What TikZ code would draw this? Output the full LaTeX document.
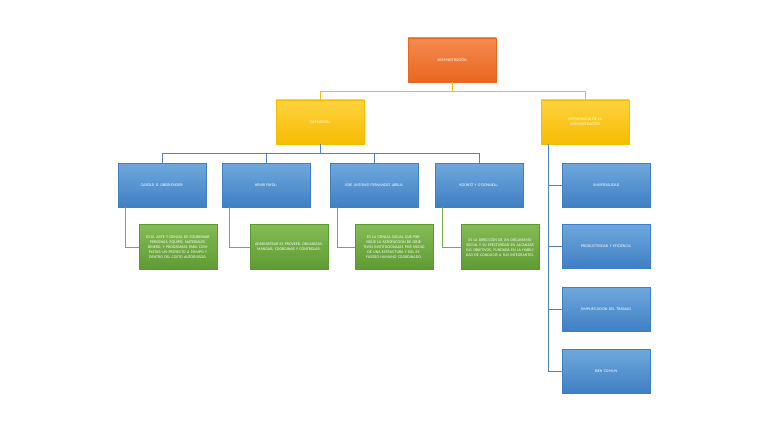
\documentclass[tikz,border=0pt]{standalone}
\usepackage{fontspec}
\setmainfont{Carlito}
\definecolor{orT}{HTML}{F58A4F}\definecolor{orB}{HTML}{E8671F}
\definecolor{yeT}{HTML}{FFD33F}\definecolor{yeB}{HTML}{F5BC00}
\definecolor{blT}{HTML}{6FA8DC}\definecolor{blB}{HTML}{3F7FC4}
\definecolor{grT}{HTML}{84BB55}\definecolor{grB}{HTML}{5E9A32}
\definecolor{lnY}{HTML}{F2C200}\definecolor{lnB}{HTML}{4A84C2}\definecolor{lnG}{HTML}{77AD4A}
\begin{document}
\begin{tikzpicture}[x=1pt,y=-1pt,
 bx/.style={draw=#1,line width=0.3pt,minimum width=88pt,minimum height=44pt,text=white,align=center,font=\fontsize{4}{5}\selectfont,inner sep=1pt},
 orb/.style={bx=orB,top color=orT,bottom color=orB,text width=84pt},
 yb/.style={bx=yeB,top color=yeT,bottom color=yeB,text width=70pt},
 bb/.style={bx=blB,top color=blT,bottom color=blB,text width=84pt},
 gb/.style={bx=grB,top color=grT,bottom color=grB,minimum width=78pt,minimum height=45pt,text width=70pt},
 yl/.style={draw=lnY,line width=0.8pt},
 bl/.style={draw=lnB,line width=0.8pt},
 gl/.style={draw=lnG,line width=0.8pt}]
\useasboundingbox (0,0) rectangle (768,433);
\node[orb] (adm) at (452,60) {ADMINISTRACIÓN};
\node[yb] (def) at (320,122) {DEFINICIÓN};
\node[yb] (imp) at (585,122) {IMPORTANCIA DE LA\\ADMINISTRACIÓN};
\node[bb] (b1) at (162,185) {GAROLD D. OBERLENDER:};
\node[bb] (b2) at (266,185) {HENRI FAYOL:};
\node[bb] (b3) at (374,185) {JOSE ANTONIO FERNANDEZ ARELA:};
\node[bb] (b4) at (479,185) {KOONTZ Y O'DONNELL:};
\node[gb] (g1) at (178,247) {ES EL ARTE Y CIENCIA DE COORDINAR PERSONAS, EQUIPO, MATERIALES, DINERO, Y PROGRAMAS PARA COMPLETAR UN PROYECTO A TIEMPO Y DENTRO DEL COSTO AUTORIZADO.};
\node[gb] (g2) at (289,247) {ADMINISTRAR ES PROVEER, ORGANIZAR, MANDAR, COORDINAR Y CONTROLAR.};
\node[gb] (g3) at (394,247) {ES LA CIENCIA SOCIAL QUE PERSIGUE LA SATISFACCION DE OBJETIVOS INSTITUCIONALES POR MEDIO DE UNA ESTRUCTURA Y DEL ESFUERZO HUMANO COORDINADO.};
\node[gb] (g4) at (500,247) {ES LA DIRECCIÓN DE UN ORGANISMO SOCIAL Y SU EFECTIVIDAD EN ALCANZAR SUS OBJETIVOS, FUNDADA EN LA HABILIDAD DE CONDUCIR A SUS INTEGRANTES.};
\node[bb] (r1) at (606,185) {UNIVERSALIDAD};
\node[bb] (r2) at (606,246) {PRODUCTIVIDAD Y EFICIENCIA};
\node[bb] (r3) at (606,309) {SIMPLIFICACION DEL TRABAJO};
\node[bb] (r4) at (606,371) {BIEN COMUN};
\draw[yl] (adm.south) -- ++(0,9) -| (def.north);
\draw[yl] (adm.south) -- ++(0,9) -| (imp.north);
\foreach \b in {b1,b2,b3,b4}{\draw[bl] (def.south) -- ++(0,9) -| (\b.north);}
\foreach \i in {1,2,3,4}{\draw[gl] ([xshift=8pt]b\i.south west) |- (g\i.west);}
\foreach \r in {r1,r2,r3,r4}{\draw[bl] ([xshift=8pt]imp.south west) |- (\r.west);}
\end{tikzpicture}
\end{document}
